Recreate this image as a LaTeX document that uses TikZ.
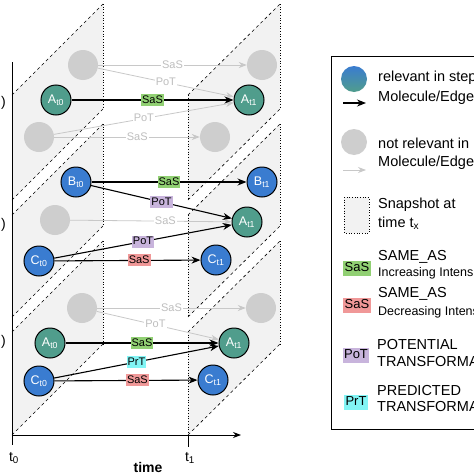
\documentclass[tikz,border=0pt]{standalone}
\usepackage{fontspec}
\setmainfont{Liberation Sans}
\usetikzlibrary{arrows.meta}
\definecolor{panelgray}{RGB}{242,242,242}
\definecolor{molteal}{RGB}{80,157,140}
\definecolor{molblue}{RGB}{58,124,208}
\definecolor{molgray}{RGB}{206,206,206}
\definecolor{edgegray}{RGB}{200,200,200}
\definecolor{labgray}{RGB}{190,190,190}
\definecolor{sasgreen}{RGB}{145,208,115}
\definecolor{sasred}{RGB}{240,152,152}
\definecolor{potpurple}{RGB}{200,180,220}
\definecolor{prtcyan}{RGB}{130,245,245}
\begin{document}
\begin{tikzpicture}[x=1pt,y=-1pt,
  mol/.style={circle, draw=black, line width=1pt, minimum size=30pt, inner sep=0pt, text=white, font=\fontsize{12.5}{12.5}\selectfont},
  molA/.style={mol, fill=molteal},
  molB/.style={mol, fill=molblue},
  molG/.style={circle, fill=molgray, minimum size=30pt, inner sep=0pt},
  blk/.style={line width=1.1pt, -{Stealth[length=9pt,width=7pt]}},
  gry/.style={draw=edgegray, line width=0.8pt, -{Stealth[length=8pt,width=6pt]}},
  lab/.style={font=\fontsize{11}{11}\selectfont, inner sep=1pt, text height=8pt, text depth=2pt},
  glab/.style={lab, text=labgray, fill=white},
  legtxt/.style={anchor=west, inner sep=0pt, font=\fontsize{14.5}{14.5}\selectfont},
  legsmall/.style={anchor=west, inner sep=0pt, font=\fontsize{12.5}{12.5}\selectfont},
  leglab/.style={font=\fontsize{13}{13}\selectfont, inner sep=1.5pt, text height=9.5pt, text depth=2.5pt},
  axlab/.style={font=\fontsize{14}{14}\selectfont, inner sep=0pt}
]
\useasboundingbox (0,0) rectangle (474,474);
\clip (0,0) rectangle (474,474);

% panels
\foreach \a/\b in {95/200,215/317,332/435}{
  \foreach \xl/\xr in {12/103,188/280}{
    \fill[panelgray] (\xl,\a) -- (\xr,{\a-91}) -- (\xr,{\b-91}) -- (\xl,\b) -- cycle;
    \draw[dashed, line width=0.6pt] (\xl,\a) -- (\xr,{\a-91});
    \draw[dashed, line width=0.6pt] (\xl,\b) -- (\xr,{\b-91});
    \draw[dotted, line width=0.7pt] (\xr,{\a-91}) -- (\xr,{\b-91});
  }
  \draw[dotted, line width=0.7pt] (188,\a) -- (188,\b);
}

% axes
\coordinate (ytop) at (12,62);
\coordinate (ybot) at (12,445);
\coordinate (xo) at (12,435);
\coordinate (xend) at (241,435);
\coordinate (t1a) at (188,435);
\coordinate (t1b) at (188,447);
\draw[line width=0.8pt] (ytop) -- (ybot);
\draw[line width=0.8pt, -{Stealth[length=8pt,width=6pt]}] (xo) -- (xend);
\draw[line width=0.8pt] (t1a) -- (t1b);
\node[axlab] (t0lab) at (14,458) {t\textsubscript{0}};
\node[axlab] (t1lab) at (190,458) {t\textsubscript{1}};
\node[axlab, font=\fontsize{14}{14}\selectfont\bfseries] (timelab) at (148,467) {time};
\node[axlab, anchor=east] (p1) at (6,103) {)};
\node[axlab, anchor=east] (p2) at (6,225) {)};
\node[axlab, anchor=east] (p3) at (6,342) {)};

% nodes top
\node[molG] (g1a) at (83,65) {};
\node[molA] (At0a) at (56,100) {A\textsubscript{t0}};
\node[molG] (g1b) at (39,137) {};
\node[molG] (g1c) at (262,65) {};
\node[molA] (At1a) at (249,100) {A\textsubscript{t1}};
\node[molG] (g1d) at (215,137) {};
% nodes middle
\node[molB] (Bt0) at (76,182) {B\textsubscript{t0}};
\node[molG] (g2a) at (55,220) {};
\node[molB] (Ct0b) at (39,261) {C\textsubscript{t0}};
\node[molB] (Bt1) at (262,182) {B\textsubscript{t1}};
\node[molA] (At1b) at (247,222) {A\textsubscript{t1}};
\node[molB] (Ct1b) at (216,260) {C\textsubscript{t1}};
% nodes bottom
\node[molG] (g3a) at (82,308) {};
\node[molA] (At0c) at (50,343) {A\textsubscript{t0}};
\node[molB] (Ct0c) at (39,381) {C\textsubscript{t0}};
\node[molG] (g3b) at (261,308) {};
\node[molA] (At1c) at (234,343) {A\textsubscript{t1}};
\node[molB] (Ct1c) at (213,380) {C\textsubscript{t1}};

% gray edges
\draw[gry] (g1a) -- node[glab] {SaS} (g1c);
\draw[gry] (g1a) -- node[glab] {PoT} (At1a);
\draw[gry] (g1b) -- node[glab] {PoT} (At1a);
\draw[gry] (g1b) -- node[glab, pos=0.57] {SaS} (g1d);
\draw[gry] (g2a) -- node[glab, pos=0.59] {SaS} (At1b);
\draw[gry] (g3a) -- node[glab] {SaS} (g3b);
\draw[gry] (g3a) -- node[glab, pos=0.48] {PoT} (At1c);

% black edges
\draw[blk] (At0a) -- node[lab, fill=sasgreen] {SaS} (At1a);
\draw[blk] (Bt0) -- node[lab, fill=sasgreen] {SaS} (Bt1);
\draw[blk] (Bt0) -- node[lab, fill=potpurple] {PoT} (At1b);
\draw[blk] (Ct0b) -- node[lab, fill=potpurple] {PoT} (At1b);
\draw[blk] (Ct0b) -- node[lab, fill=sasred, pos=0.58] {SaS} (Ct1b);
\draw[blk] (At0c) -- node[lab, fill=sasgreen] {SaS} (At1c);
\draw[blk] (Ct0c) -- node[lab, fill=prtcyan] {PrT} (At1c);
\draw[blk] (Ct0c) -- node[lab, fill=sasred, pos=0.58] {SaS} (Ct1c);

% legend
\draw[line width=1pt] (331,56) rectangle (490,429);
\shade[top color=molblue, bottom color=molteal] (354,79) circle (13);
\node[legtxt] (l1a) at (378,78) {relevant in step};
\node[legtxt] (l1b) at (378,98) {Molecule/Edge};
\coordinate (la1) at (343,103);
\coordinate (la2) at (366,103);
\draw[blk] (la1) -- (la2);
\fill[molgray] (354,142) circle (13);
\node[legtxt] (l2a) at (378,143) {not relevant in};
\node[legtxt] (l2b) at (378,163) {Molecule/Edge};
\coordinate (lb1) at (343,170);
\coordinate (lb2) at (366,170);
\draw[gry] (lb1) -- (lb2);
\draw[dotted, line width=0.7pt, fill=panelgray] (344,197) rectangle (369,233);
\node[legtxt] (l3a) at (378,205) {Snapshot at};
\node[legtxt] (l3b) at (378,223) {time t\textsubscript{x}};
\node[leglab, fill=sasgreen] (ls1) at (357,268) {SaS};
\node[legtxt] (l4a) at (378,257) {SAME\_AS};
\node[legsmall] (l4b) at (378,273) {Increasing Intensity};
\node[leglab, fill=sasred] (ls2) at (357,305) {SaS};
\node[legtxt] (l5a) at (378,294) {SAME\_AS};
\node[legsmall] (l5b) at (378,312) {Decreasing Intensity};
\node[leglab, fill=potpurple] (ls3) at (356,355) {PoT};
\node[legtxt] (l6a) at (377,345) {POTENTIAL};
\node[legtxt] (l6b) at (377,362) {TRANSFORMATION};
\node[leglab, fill=prtcyan] (ls4) at (356,402) {PrT};
\node[legtxt] (l7a) at (377,391) {PREDICTED};
\node[legtxt] (l7b) at (377,407) {TRANSFORMATION};
\end{tikzpicture}
\end{document}
